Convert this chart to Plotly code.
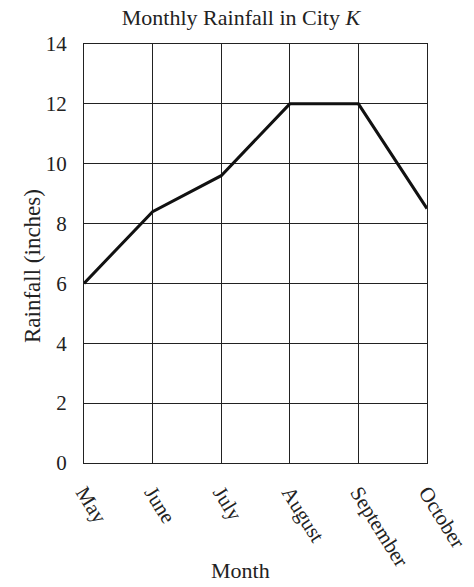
import plotly.graph_objects as go

months = ["May", "June", "July", "August", "September", "October"]
rainfall = [6, 8.4, 9.6, 12, 12, 8.5]
y_ticks = [0, 2, 4, 6, 8, 10, 12, 14]

font_family = "Liberation Serif, Times New Roman, serif"
W, H = 474, 587

fig = go.Figure()
fig.add_trace(go.Scatter(
    x=months, y=rainfall, mode="lines",
    line=dict(color="#111111", width=3),
    showlegend=False, hoverinfo="skip", cliponaxis=False,
))

fig.update_layout(
    width=W, height=H,
    margin=dict(l=84, r=47, t=44, b=124),
    paper_bgcolor="white", plot_bgcolor="white",
    font=dict(family=font_family, color="#222222", size=21),
    title=dict(text="Monthly Rainfall in City <i>K</i>", x=241 / W, xanchor="center",
               y=1 - 17 / H, yanchor="middle", font=dict(size=22, family=font_family)),
    annotations=[
        dict(text="Month", xref="paper", yref="paper", x=(240 - 84) / (W - 84 - 47),
             y=-(570 - 463) / (463 - 44), xanchor="center", yanchor="middle",
             showarrow=False, font=dict(size=22, family=font_family)),
        dict(text="Rainfall (inches)", xref="paper", yref="paper", x=-(84 - 32) / (W - 84 - 47),
             y=(463 - 266) / (463 - 44), xanchor="center", yanchor="middle", textangle=-90,
             showarrow=False, font=dict(size=23, family=font_family)),
    ],
)

fig.update_xaxes(
    type="category", range=[0, 5],
    showgrid=True, gridcolor="#222222", gridwidth=1.2,
    showline=True, linecolor="#222222", linewidth=1.2, mirror=True,
    zeroline=False, ticks="", tickangle=58, automargin=False,
    tickfont=dict(size=21, family=font_family),
    ticklabelstandoff=8,
)
fig.update_yaxes(
    range=[0, 14], tickvals=y_ticks, ticktext=[str(v) for v in y_ticks],
    showgrid=True, gridcolor="#222222", gridwidth=1.2,
    showline=True, linecolor="#222222", linewidth=1.2, mirror=True,
    zeroline=False, ticks="", automargin=False,
    tickfont=dict(size=21, family=font_family),
    ticklabelstandoff=12,
)

fig.write_html("out.html")
